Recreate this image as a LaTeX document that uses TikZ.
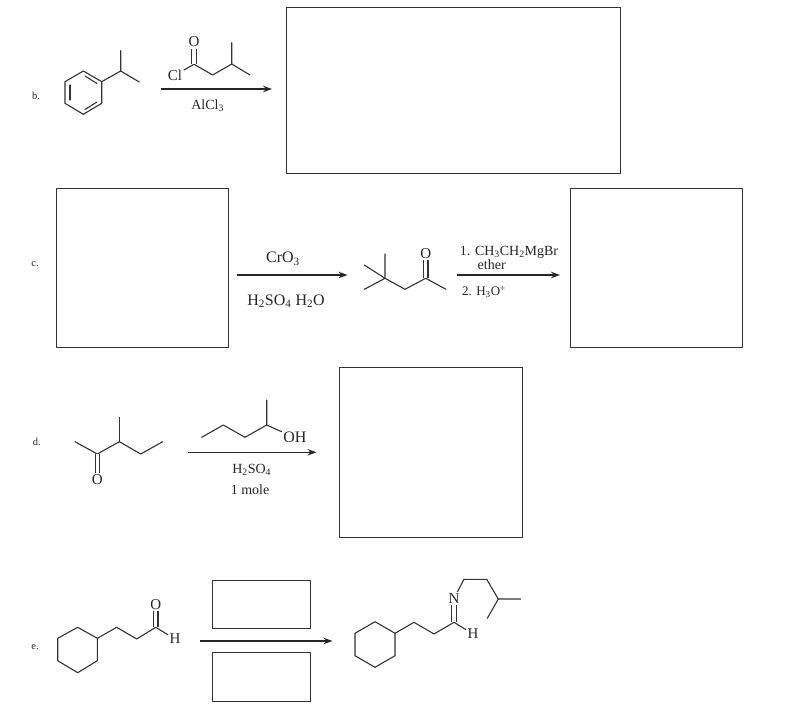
\documentclass[tikz,border=0pt]{standalone}
\usepackage{fontspec}
\setmainfont{Liberation Serif}
\usetikzlibrary{arrows.meta}
\tikzstyle{line} = [draw, -{Stealth[length=9pt,width=6.5pt]}, line width=1.2pt, black!85]
\tikzstyle{bond} = [draw, line width=1.1pt, line cap=round, line join=round, black!80]
\tikzstyle{dbl} = [bond, double, double distance=3.4pt, line cap=butt]
\tikzstyle{answer} = [rectangle, draw, line width=1pt, black!80, inner sep=0pt]
\tikzstyle{atom} = [inner sep=1.6pt, black!85, font=\fontsize{15}{10}\selectfont]
\tikzstyle{reag} = [inner sep=0pt, black!85, font=\fontsize{14}{10}\selectfont]
\tikzstyle{reagbig} = [inner sep=0pt, black!85, font=\fontsize{16}{10}\selectfont]
\tikzstyle{part} = [inner sep=0pt, black!85, font=\fontsize{10.5}{10}\selectfont]
\begin{document}
\begin{tikzpicture}[x=1pt, y=-1pt]
\useasboundingbox (0,0) rectangle (804,712);

\node [part] (lb) at (36,96) {b.};
\coordinate (b1) at (83.3,71);
\coordinate (b2) at (101.7,81.7);
\coordinate (b3) at (101.7,103.3);
\coordinate (b4) at (83.3,114.3);
\coordinate (b5) at (65,103.3);
\coordinate (b6) at (65,81.7);
\path [bond] (b1) -- (b2) -- (b3) -- (b4) -- (b5) -- (b6) -- cycle;
\coordinate (bi1) at (85,76);
\coordinate (bi2) at (97,83.5);
\coordinate (bi3) at (97,102);
\coordinate (bi4) at (85,109.5);
\coordinate (bi5) at (70,85);
\coordinate (bi6) at (70,100);
\path [bond] (bi1) -- (bi2);
\path [bond] (bi3) -- (bi4);
\path [bond] (bi5) -- (bi6);
\coordinate (ipr) at (120.7,71);
\coordinate (ipr1) at (120.7,50.7);
\coordinate (ipr2) at (139.3,82);
\path [bond] (b2) -- (ipr) -- (ipr1);
\path [bond] (ipr) -- (ipr2);

\node [atom] (cl) at (175,75) {Cl};
\node [atom] (ob) at (194,42) {O};
\coordinate (acyl) at (194,64.3);
\coordinate (acyl1) at (212.7,75);
\coordinate (acyl2) at (231.7,64);
\coordinate (acyl3) at (231.7,42.7);
\coordinate (acyl4) at (250,75);
\path [bond] (cl) -- (acyl) -- (acyl1) -- (acyl2) -- (acyl3);
\path [bond] (acyl2) -- (acyl4);
\path [dbl] (acyl) -- (ob);

\coordinate (arb1) at (160.7,89);
\coordinate (arb2) at (272,89);
\path [line] (arb1) to (arb2);
\node [reag] (alcl) at (207.7,106) {AlCl\textsubscript{3}};
\node [answer, minimum width=334pt, minimum height=166pt] (boxb) at (453,90) {};

\node [part] (lc) at (35,264) {c.};
\node [answer, minimum width=172pt, minimum height=159pt] (boxc1) at (142,267.5) {};
\coordinate (arc1) at (237.3,275);
\coordinate (arc2) at (347.5,275);
\path [line] (arc1) to (arc2);
\node [reagbig] (cro) at (283,259) {CrO\textsubscript{3}};
\node [reagbig] (hso) at (286,301) {H\textsubscript{2}SO\textsubscript{4} H\textsubscript{2}O};

\coordinate (tb) at (385,278.3);
\coordinate (tb1) at (385,254);
\coordinate (tb2) at (364.3,265);
\coordinate (tb3) at (364.3,289.3);
\coordinate (tb4) at (405,289.3);
\coordinate (tb5) at (425.7,278.3);
\coordinate (tb6) at (446,289.3);
\node [atom] (oc) at (425.7,253.5) {O};
\path [bond] (tb1) -- (tb) -- (tb4) -- (tb5) -- (tb6);
\path [bond] (tb2) -- (tb) -- (tb3);
\path [dbl] (tb5) -- (oc);

\coordinate (arc3) at (456.7,275);
\coordinate (arc4) at (560,275);
\path [line] (arc3) to (arc4);
\node [reag] (grig) at (509,252) {1. CH\textsubscript{3}CH\textsubscript{2}MgBr};
\node [reag] (eth) at (491.7,265) {ether};
\node [reag, font=\fontsize{13}{10}\selectfont] (hyd) at (484,292) {2. H\textsubscript{3}O\textsuperscript{+}};
\node [answer, minimum width=172pt, minimum height=159pt] (boxc2) at (656,267.5) {};

\node [part] (ld) at (36.7,442) {d.};
\coordinate (d1) at (75,441.7);
\coordinate (d2) at (97.3,454);
\coordinate (d3) at (119.3,441.7);
\coordinate (d4) at (119.3,417.3);
\coordinate (d5) at (140.7,454);
\coordinate (d6) at (162.7,441.7);
\node [atom] (od) at (97.3,480) {O};
\path [bond] (d1) -- (d2) -- (d3) -- (d5) -- (d6);
\path [bond] (d3) -- (d4);
\path [dbl] (d2) -- (od);

\coordinate (al1) at (201.7,437.3);
\coordinate (al2) at (223.3,425);
\coordinate (al3) at (245,437.3);
\coordinate (al4) at (266.7,425);
\coordinate (al5) at (266.7,400);
\node [atom, font=\fontsize{16}{10}\selectfont] (oh) at (295,437.7) {OH};
\path [bond] (al1) -- (al2) -- (al3) -- (al4) -- (al5);
\path [bond] (al4) -- (oh);

\coordinate (ard1) at (188.3,452.3);
\coordinate (ard2) at (316.5,452.3);
\path [line] (ard1) to (ard2);
\node [reag] (hsod) at (251.7,470) {H\textsubscript{2}SO\textsubscript{4}};
\node [reag] (mole) at (250,490) {1 mole};
\node [answer, minimum width=183pt, minimum height=170pt] (boxd) at (430.5,452) {};

\node [part] (le) at (35,646.7) {e.};
\coordinate (e1) at (77.7,627.3);
\coordinate (e2) at (97.3,638.3);
\coordinate (e3) at (97.3,660.7);
\coordinate (e4) at (77.7,672.7);
\coordinate (e5) at (57.7,660.7);
\coordinate (e6) at (57.7,638.3);
\path [bond] (e1) -- (e2) -- (e3) -- (e4) -- (e5) -- (e6) -- cycle;
\coordinate (e7) at (116.7,627.3);
\coordinate (e8) at (136.7,639);
\coordinate (e9) at (155.7,627.3);
\node [atom] (oe) at (155.7,604.3) {O};
\node [atom] (he) at (175,639) {H};
\path [bond] (e2) -- (e7) -- (e8) -- (e9) -- (he);
\path [dbl] (e9) -- (oe);

\node [answer, minimum width=98pt, minimum height=48pt] (boxe1) at (261,604) {};
\node [answer, minimum width=98pt, minimum height=49pt] (boxe2) at (261,676.5) {};
\coordinate (are1) at (200,641);
\coordinate (are2) at (332.5,641);
\path [line] (are1) to (are2);

\coordinate (p1) at (375,621.7);
\coordinate (p2) at (395,633.3);
\coordinate (p3) at (395,655.7);
\coordinate (p4) at (375,667.3);
\coordinate (p5) at (355,655.7);
\coordinate (p6) at (355,633.3);
\path [bond] (p1) -- (p2) -- (p3) -- (p4) -- (p5) -- (p6) -- cycle;
\coordinate (p7) at (414,622.3);
\coordinate (p8) at (434,634);
\coordinate (p9) at (454,622.3);
\node [atom] (np) at (454,598.3) {N};
\node [atom] (hp) at (473,634) {H};
\path [bond] (p2) -- (p7) -- (p8) -- (p9) -- (hp);
\path [dbl] (p9) -- (np);
\coordinate (p10) at (464,579.3);
\coordinate (p11) at (486.7,579.3);
\coordinate (p12) at (498.3,599);
\coordinate (p13) at (520.7,599);
\coordinate (p14) at (487.3,618.3);
\path [bond] (np) -- (p10) -- (p11) -- (p12) -- (p13);
\path [bond] (p12) -- (p14);

\end{tikzpicture}
\end{document}
